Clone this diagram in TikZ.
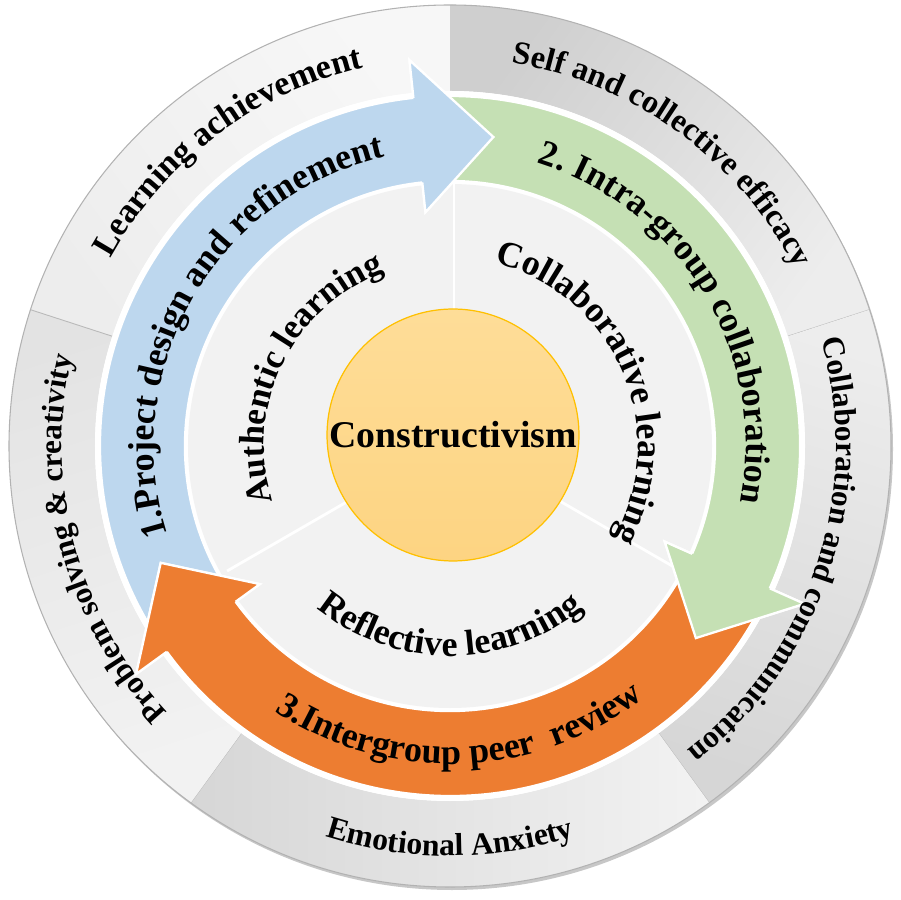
\documentclass[tikz,border=0pt]{standalone}
\usepackage{fontspec}
\setmainfont{Liberation Serif}
\usetikzlibrary{decorations.text}

\definecolor{projblue}{HTML}{BDD7EE}
\definecolor{intragreen}{HTML}{C5E0B4}
\definecolor{interorange}{HTML}{ED7D31}
\definecolor{discgray}{HTML}{F2F2F2}
\definecolor{coretop}{HTML}{FEDD98}
\definecolor{corebot}{HTML}{FDD482}
\definecolor{coreline}{HTML}{FFC000}

\newcommand{\arctext}[5]{%
	\path[decorate, decoration={text along path, text align=center,
		text={|\fontsize{#4}{#4}\selectfont\bfseries|#5}}]
		(#2:#1) arc[start angle=#2, end angle=#3, radius=#1];}

\begin{document}
\begin{tikzpicture}[scale = 0.02,
	sep/.style = {draw=gray!55, line width=0.5pt},
	cut/.style = {draw=white, line width=1.3pt},
]
\edef \ringout {441}
\edef \ringin {355}
\edef \bandout {350}
\edef \bandin {265}
\edef \discr {262}

\useasboundingbox (-450,-454) rectangle (450,446);

\fill[black!22] (2,-3) circle [radius=\ringout];
\fill[white] (0,0) circle [radius=\ringout];

\foreach \st/\en/\dk/\lt/\ang in {90/162/7/3/126, 18/90/19/7/54, -54/18/16/7/162, -126/-54/16/5/90, 162/234/11/5/18}
	{
		\shade[top color=black!\dk, bottom color=black!\lt, shading angle=\ang]
			(\st:\ringin) arc[start angle=\st, end angle=\en, radius=\ringin]
			-- (\en:\ringout) arc[start angle=\en, end angle=\st, radius=\ringout] -- cycle;
		\draw[sep] (\st:\ringin) -- (\st:\ringout);
	}
\draw[gray!60, line width=0.6pt] (0,0) circle [radius=\ringout];

\fill[white] (0,0) circle [radius=\ringin];
\fill[discgray] (0,0) circle [radius=\discr];
\foreach \ang in {90, -30, 210}
	{
		\draw[cut, line width=1.6pt] (4,6) -- ++(\ang:\discr);
	}

\foreach \st/\en/\col in {212/96/projblue, 92/-24/intragreen, -28/-144/interorange}
	{
		\filldraw[fill=\col, cut] (\st:\bandin) arc[start angle=\st, end angle=\en, radius=\bandin]
			-- (\en:235) -- ({\en-14}:312) -- (\en:388) -- (\en:\bandout)
			arc[start angle=\en, end angle=\st, radius=\bandout] -- cycle;
	}

\foreach \st/\en/\col in {212/96/projblue, 92/-24/intragreen, -28/-144/interorange}
	{
		\fill[\col] (\en:235) -- ({\en-14}:312) -- (\en:388) -- cycle;
		\draw[cut] (\en:\bandin) -- (\en:235) -- ({\en-14}:312) -- (\en:388) -- (\en:\bandout);
	}

\node[circle, minimum size=5.04cm, inner sep=0pt, top color=coretop, bottom color=corebot,
	draw=coreline, line width=0.7pt, font=\fontsize{21.5}{24}\selectfont\bfseries]
	(core) at (3,11) {Constructivism};

\arctext{388}{172}{82}{19.5}{Learning achievement}
\arctext{388}{99}{9}{18.5}{Self and collective efficacy}
\arctext{386}{27}{-63}{17.8}{Collaboration and communication}
\arctext{410}{-135}{-45}{18}{Emotional Anxiety}
\arctext{388}{240}{150}{17.8}{Problem solving {\&} creativity}
\arctext{296}{210}{90}{20.5}{1.Project design and refinement}
\arctext{296}{91}{-29}{20.5}{2. Intra-group collaboration}
\arctext{318}{-148}{-28}{20.5}{3.Intergroup peer{\ } review}
\arctext{186}{214}{94}{20}{Authentic learning}
\arctext{188}{84}{-37}{20.5}{Collaborative learning}
\arctext{210}{-150}{-30}{20.5}{Reflective learning}

\end{tikzpicture}
\end{document}
